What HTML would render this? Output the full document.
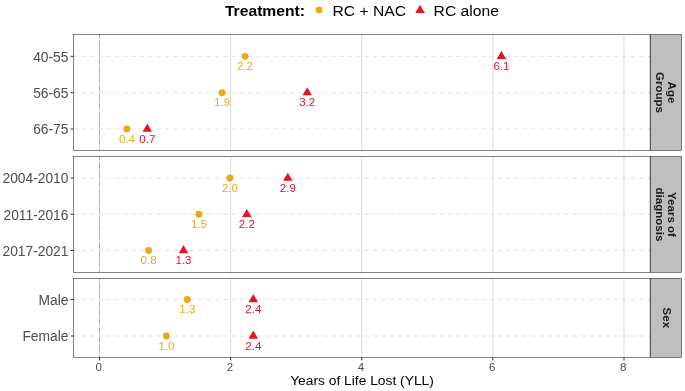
<!DOCTYPE html>
<html><head><meta charset="utf-8"><title>Years of Life Lost</title>
<style>
html,body{margin:0;padding:0;background:#fff;}
svg{display:block;font-family:"Liberation Sans", Arial, sans-serif;}
.ax{font-size:13.8px;fill:#4d4d4d;text-anchor:end;}
.xt{font-size:11px;fill:#4d4d4d;text-anchor:middle;}
.lb{font-size:11px;text-anchor:middle;}
.st{font-size:11px;font-weight:bold;fill:#1a1a1a;text-anchor:middle;}
.lg{font-size:15.3px;fill:#000;}
.ti{font-size:13.4px;fill:#000;text-anchor:middle;}
</style></head><body>
<svg width="685" height="391" viewBox="0 0 685 391">
<rect width="685" height="391" fill="#fff"/>
<text class="lg" transform="translate(224.90,15.50) scale(1.025,1)" font-weight="bold">Treatment:</text>
<circle cx="319.1" cy="10" r="3.4" fill="#EAAA18"/>
<text class="lg" transform="translate(332.50,15.50) scale(1.025,1)">RC + NAC</text>
<polygon points="420.00,4.80 424.75,12.90 415.25,12.90" fill="#E61226"/>
<text class="lg" transform="translate(433.60,15.50) scale(1.025,1)">RC alone</text>
<g>
<line x1="99.50" x2="99.50" y1="34.6" y2="150.3" stroke="#dbdbdb" stroke-width="1"/>
<line x1="230.62" x2="230.62" y1="34.6" y2="150.3" stroke="#dbdbdb" stroke-width="1"/>
<line x1="361.74" x2="361.74" y1="34.6" y2="150.3" stroke="#dbdbdb" stroke-width="1"/>
<line x1="492.86" x2="492.86" y1="34.6" y2="150.3" stroke="#dbdbdb" stroke-width="1"/>
<line x1="623.98" x2="623.98" y1="34.6" y2="150.3" stroke="#dbdbdb" stroke-width="1"/>
<line x1="73.5" x2="650.2" y1="56.35" y2="56.35" stroke="#e0e0e0" stroke-width="1" stroke-dasharray="4.16 4.16"/>
<line x1="73.5" x2="650.2" y1="92.67" y2="92.67" stroke="#e0e0e0" stroke-width="1" stroke-dasharray="4.16 4.16"/>
<line x1="73.5" x2="650.2" y1="129.0" y2="129.0" stroke="#e0e0e0" stroke-width="1" stroke-dasharray="4.16 4.16"/>
<line x1="99.5" x2="99.5" y1="150.3" y2="34.6" stroke="#a8a8a8" stroke-width="0.9" stroke-dasharray="5.5 3.4" stroke-dashoffset="3"/>
<circle cx="245.0" cy="56.35" r="3.45" fill="#EAAA18"/>
<polygon points="501.40,50.95 506.15,59.05 496.65,59.05" fill="#E61226"/>
<text class="lb" transform="translate(245.00,70.05) scale(1.05,1)" fill="#EAAA18">2.2</text>
<text class="lb" transform="translate(501.40,70.05) scale(1.05,1)" fill="#E61226">6.1</text>
<line x1="70.6" x2="73.5" y1="56.35" y2="56.35" stroke="#333" stroke-width="1"/>
<text class="ax" transform="translate(68.45,61.60)">40-55</text>
<circle cx="222.1" cy="92.67" r="3.45" fill="#EAAA18"/>
<polygon points="307.20,87.27 311.95,95.37 302.45,95.37" fill="#E61226"/>
<text class="lb" transform="translate(222.10,106.37) scale(1.05,1)" fill="#EAAA18">1.9</text>
<text class="lb" transform="translate(307.20,106.37) scale(1.05,1)" fill="#E61226">3.2</text>
<line x1="70.6" x2="73.5" y1="92.67" y2="92.67" stroke="#333" stroke-width="1"/>
<text class="ax" transform="translate(68.45,97.92)">56-65</text>
<circle cx="126.9" cy="129.0" r="3.45" fill="#EAAA18"/>
<polygon points="147.30,123.60 152.05,131.70 142.55,131.70" fill="#E61226"/>
<text class="lb" transform="translate(126.90,142.70) scale(1.05,1)" fill="#EAAA18">0.4</text>
<text class="lb" transform="translate(147.30,142.70) scale(1.05,1)" fill="#E61226">0.7</text>
<line x1="70.6" x2="73.5" y1="129.0" y2="129.0" stroke="#333" stroke-width="1"/>
<text class="ax" transform="translate(68.45,134.25)">66-75</text>
<rect x="650.2" y="34.6" width="31.4" height="115.7" fill="#bfbfbf" stroke="#333" stroke-width="0.6"/>
<rect x="73.5" y="34.6" width="576.7" height="115.7" fill="none" stroke="#333" stroke-width="0.6"/>
<text class="st" transform="translate(668.40,92.45) rotate(90) scale(1.05,1)">Age</text>
<text class="st" transform="translate(655.90,92.45) rotate(90) scale(1.05,1)">Groups</text>
</g>
<g>
<line x1="99.50" x2="99.50" y1="156.6" y2="272.3" stroke="#dbdbdb" stroke-width="1"/>
<line x1="230.62" x2="230.62" y1="156.6" y2="272.3" stroke="#dbdbdb" stroke-width="1"/>
<line x1="361.74" x2="361.74" y1="156.6" y2="272.3" stroke="#dbdbdb" stroke-width="1"/>
<line x1="492.86" x2="492.86" y1="156.6" y2="272.3" stroke="#dbdbdb" stroke-width="1"/>
<line x1="623.98" x2="623.98" y1="156.6" y2="272.3" stroke="#dbdbdb" stroke-width="1"/>
<line x1="73.5" x2="650.2" y1="178.05" y2="178.05" stroke="#e0e0e0" stroke-width="1" stroke-dasharray="4.16 4.16"/>
<line x1="73.5" x2="650.2" y1="214.3" y2="214.3" stroke="#e0e0e0" stroke-width="1" stroke-dasharray="4.16 4.16"/>
<line x1="73.5" x2="650.2" y1="250.5" y2="250.5" stroke="#e0e0e0" stroke-width="1" stroke-dasharray="4.16 4.16"/>
<line x1="99.5" x2="99.5" y1="272.3" y2="156.6" stroke="#a8a8a8" stroke-width="0.9" stroke-dasharray="5.5 3.4" stroke-dashoffset="3"/>
<circle cx="229.9" cy="178.05" r="3.45" fill="#EAAA18"/>
<polygon points="287.80,172.65 292.55,180.75 283.05,180.75" fill="#E61226"/>
<text class="lb" transform="translate(229.90,191.75) scale(1.05,1)" fill="#EAAA18">2.0</text>
<text class="lb" transform="translate(287.80,191.75) scale(1.05,1)" fill="#E61226">2.9</text>
<line x1="70.6" x2="73.5" y1="178.05" y2="178.05" stroke="#333" stroke-width="1"/>
<text class="ax" transform="translate(68.45,183.30)">2004-2010</text>
<circle cx="198.9" cy="214.3" r="3.45" fill="#EAAA18"/>
<polygon points="246.80,208.90 251.55,217.00 242.05,217.00" fill="#E61226"/>
<text class="lb" transform="translate(198.90,228.00) scale(1.05,1)" fill="#EAAA18">1.5</text>
<text class="lb" transform="translate(246.80,228.00) scale(1.05,1)" fill="#E61226">2.2</text>
<line x1="70.6" x2="73.5" y1="214.3" y2="214.3" stroke="#333" stroke-width="1"/>
<text class="ax" transform="translate(68.45,219.55)">2011-2016</text>
<circle cx="148.6" cy="250.5" r="3.45" fill="#EAAA18"/>
<polygon points="183.50,245.10 188.25,253.20 178.75,253.20" fill="#E61226"/>
<text class="lb" transform="translate(148.60,264.20) scale(1.05,1)" fill="#EAAA18">0.8</text>
<text class="lb" transform="translate(183.50,264.20) scale(1.05,1)" fill="#E61226">1.3</text>
<line x1="70.6" x2="73.5" y1="250.5" y2="250.5" stroke="#333" stroke-width="1"/>
<text class="ax" transform="translate(68.45,255.75)">2017-2021</text>
<rect x="650.2" y="156.6" width="31.4" height="115.7" fill="#bfbfbf" stroke="#333" stroke-width="0.6"/>
<rect x="73.5" y="156.6" width="576.7" height="115.7" fill="none" stroke="#333" stroke-width="0.6"/>
<text class="st" transform="translate(668.40,214.45) rotate(90) scale(1.05,1)">Years of</text>
<text class="st" transform="translate(655.90,214.45) rotate(90) scale(1.05,1)">diagnosis</text>
</g>
<g>
<line x1="99.50" x2="99.50" y1="278.3" y2="357.3" stroke="#dbdbdb" stroke-width="1"/>
<line x1="230.62" x2="230.62" y1="278.3" y2="357.3" stroke="#dbdbdb" stroke-width="1"/>
<line x1="361.74" x2="361.74" y1="278.3" y2="357.3" stroke="#dbdbdb" stroke-width="1"/>
<line x1="492.86" x2="492.86" y1="278.3" y2="357.3" stroke="#dbdbdb" stroke-width="1"/>
<line x1="623.98" x2="623.98" y1="278.3" y2="357.3" stroke="#dbdbdb" stroke-width="1"/>
<line x1="73.5" x2="650.2" y1="299.5" y2="299.5" stroke="#e0e0e0" stroke-width="1" stroke-dasharray="4.16 4.16"/>
<line x1="73.5" x2="650.2" y1="336.0" y2="336.0" stroke="#e0e0e0" stroke-width="1" stroke-dasharray="4.16 4.16"/>
<line x1="99.5" x2="99.5" y1="357.3" y2="278.3" stroke="#a8a8a8" stroke-width="0.9" stroke-dasharray="5.5 3.4" stroke-dashoffset="3"/>
<circle cx="187.3" cy="299.5" r="3.45" fill="#EAAA18"/>
<polygon points="253.30,294.10 258.05,302.20 248.55,302.20" fill="#E61226"/>
<text class="lb" transform="translate(187.30,313.20) scale(1.05,1)" fill="#EAAA18">1.3</text>
<text class="lb" transform="translate(253.30,313.20) scale(1.05,1)" fill="#E61226">2.4</text>
<line x1="70.6" x2="73.5" y1="299.5" y2="299.5" stroke="#333" stroke-width="1"/>
<text class="ax" transform="translate(68.45,304.75)">Male</text>
<circle cx="166.4" cy="336.0" r="3.45" fill="#EAAA18"/>
<polygon points="253.30,330.60 258.05,338.70 248.55,338.70" fill="#E61226"/>
<text class="lb" transform="translate(166.40,349.70) scale(1.05,1)" fill="#EAAA18">1.0</text>
<text class="lb" transform="translate(253.30,349.70) scale(1.05,1)" fill="#E61226">2.4</text>
<line x1="70.6" x2="73.5" y1="336.0" y2="336.0" stroke="#333" stroke-width="1"/>
<text class="ax" transform="translate(68.45,341.25)">Female</text>
<rect x="650.2" y="278.3" width="31.4" height="79.0" fill="#bfbfbf" stroke="#333" stroke-width="0.6"/>
<rect x="73.5" y="278.3" width="576.7" height="79.0" fill="none" stroke="#333" stroke-width="0.6"/>
<text class="st" transform="translate(662.50,317.80) rotate(90) scale(1.05,1)">Sex</text>
</g>
<line x1="99.50" x2="99.50" y1="357.3" y2="360.4" stroke="#333" stroke-width="1"/>
<text class="xt" transform="translate(98.80,371.20) scale(1.05,1)">0</text>
<line x1="230.62" x2="230.62" y1="357.3" y2="360.4" stroke="#333" stroke-width="1"/>
<text class="xt" transform="translate(229.92,371.20) scale(1.05,1)">2</text>
<line x1="361.74" x2="361.74" y1="357.3" y2="360.4" stroke="#333" stroke-width="1"/>
<text class="xt" transform="translate(361.04,371.20) scale(1.05,1)">4</text>
<line x1="492.86" x2="492.86" y1="357.3" y2="360.4" stroke="#333" stroke-width="1"/>
<text class="xt" transform="translate(492.16,371.20) scale(1.05,1)">6</text>
<line x1="623.98" x2="623.98" y1="357.3" y2="360.4" stroke="#333" stroke-width="1"/>
<text class="xt" transform="translate(623.28,371.20) scale(1.05,1)">8</text>
<text class="ti" transform="translate(362.00,385.40) scale(1.03,1)">Years of Life Lost (YLL)</text>
</svg></body></html>
